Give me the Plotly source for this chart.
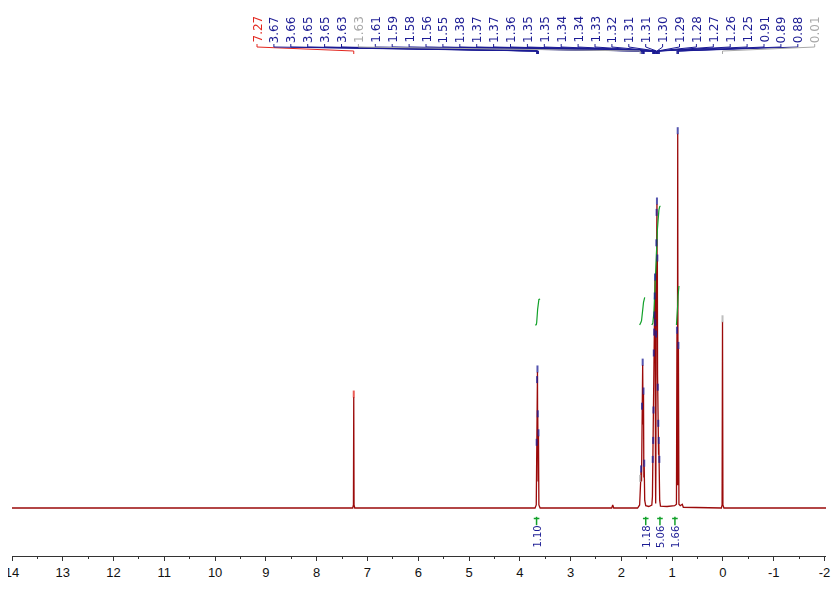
import numpy as np
import plotly.graph_objects as go

# ---------------- data ----------------
spec_ppm = [14.2, 7.29, 7.276, 7.270, 7.264, 7.25,
            3.70, 3.676, 3.668, 3.664, 3.660, 3.656, 3.652, 3.649, 3.646, 3.639, 3.632, 3.624, 3.60,
            2.19, 2.17, 2.15,
            1.68, 1.64, 1.630, 1.621, 1.612, 1.603, 1.594, 1.587, 1.580, 1.572, 1.564, 1.557, 1.550,
            1.540, 1.52, 1.46,
            1.40, 1.388, 1.382, 1.378, 1.374, 1.371, 1.368, 1.364, 1.361, 1.357, 1.354, 1.351, 1.348,
            1.345, 1.343, 1.340, 1.338, 1.335, 1.333, 1.328, 1.324, 1.320, 1.316, 1.313, 1.311, 1.308,
            1.306, 1.302, 1.299, 1.295, 1.291, 1.287, 1.283, 1.278, 1.273, 1.267, 1.262, 1.257, 1.252,
            1.245, 1.23,
            1.10, 0.95, 0.915, 0.905, 0.897, 0.890, 0.883, 0.876, 0.866, 0.84, 0.80, 0.78,
            0.03, 0.016, 0.008, 0.000, -0.02, -2.1]
spec_int = [0.0, 0.0, 0.008, 0.292, 0.008, 0.0,
            0.0, 0.008, 0.165, 0.10, 0.33, 0.27, 0.358, 0.22, 0.24, 0.07, 0.19, 0.008, 0.0,
            0.0, 0.008, 0.0,
            0.0, 0.008, 0.07, 0.04, 0.095, 0.07, 0.26, 0.20, 0.376, 0.22, 0.30, 0.08, 0.11,
            0.02, 0.006, 0.004,
            0.008, 0.03, 0.12, 0.09, 0.17, 0.13, 0.25, 0.20, 0.40, 0.33, 0.455, 0.40, 0.50,
            0.45, 0.55, 0.50, 0.60, 0.45, 0.48, 0.10, 0.012, 0.10, 0.45, 0.52, 0.69, 0.62,
            0.77, 0.70, 0.80, 0.60, 0.65, 0.35, 0.31, 0.18, 0.215, 0.14, 0.17, 0.09, 0.12,
            0.02, 0.005,
            0.004, 0.006, 0.01, 0.46, 0.06, 0.985, 0.06, 0.42, 0.01, 0.006, 0.01, 0.002,
            0.0, 0.008, 0.49, 0.008, 0.0, 0.0]

pick_ppm = [7.270, 3.668, 3.660, 3.652, 3.646, 3.632, 1.630, 1.612, 1.594, 1.580, 1.564, 1.550,
            1.382, 1.374, 1.368, 1.361, 1.354, 1.348, 1.343, 1.338, 1.333, 1.316, 1.311, 1.306,
            1.299, 1.291, 1.283, 1.273, 1.262, 1.252, 0.905, 0.890, 0.876, 0.008]
pick_int = [0.292, 0.165, 0.33, 0.358, 0.24, 0.19, 0.07, 0.095, 0.26, 0.376, 0.30, 0.11,
            0.12, 0.17, 0.25, 0.40, 0.455, 0.50, 0.55, 0.60, 0.48, 0.45, 0.69, 0.77,
            0.80, 0.65, 0.31, 0.215, 0.17, 0.12, 0.46, 0.985, 0.42, 0.49]
pick_label = ["7.27", "3.67", "3.66", "3.65", "3.65", "3.63", "1.63", "1.61", "1.59", "1.58",
              "1.56", "1.55", "1.38", "1.37", "1.37", "1.36", "1.35", "1.35", "1.34", "1.34",
              "1.33", "1.32", "1.31", "1.31", "1.30", "1.29", "1.28", "1.27", "1.26", "1.25",
              "0.91", "0.89", "0.88", "0.01"]
pick_kind = ["red"] + ["navy"] * 5 + ["gray"] + ["navy"] * 26 + ["gray"]

integ_from = [3.70, 1.65, 1.40, 0.93]
integ_to = [3.60, 1.53, 1.23, 0.85]
integ_value = [1.10, 1.18, 5.06, 1.66]
integ_label_ppm = [3.67, 1.52, 1.24, 0.945]

tick_vals = list(range(-2, 15))
tick_text = [str(v) for v in tick_vals]

# ---------------- layout geometry / styles ----------------
# page coordinates (the HTML body adds an 8 px margin around the figure div)
OFF = 8
W, H = 840 - OFF, 592 - OFF
L_PX, R_PX = 12, 826
PPM_LEFT, PPM_RIGHT = 14.0, -2.03
BASE_PY, TOP_PY = 508, 128          # page rows of intensity 0 and 1
AXIS_PY = 556
SCALE_X = (R_PX - L_PX) / (PPM_LEFT - PPM_RIGHT)
SCALE_Y = BASE_PY - TOP_PY

def px_to_ppm(px):
    return PPM_LEFT - (px - L_PX) / SCALE_X

def py_to_int(py):
    return (BASE_PY - py) / SCALE_Y

COL = {"red": "#E3261E", "navy": "#1C1C94", "gray": "#A8A8A8"}
SPEC_COL = "#9B0A0A"
INT_COL = "#12A12A"

fig = go.Figure()

# leader lines from labels to peaks
LABEL_PX0, LABEL_STEP = 257, 16.9
groups = {}
for i, (p, k) in enumerate(zip(pick_ppm, pick_kind)):
    lx = px_to_ppm(LABEL_PX0 + i * LABEL_STEP)
    xs, ys = groups.setdefault(k, ([], []))
    xs += [lx, lx, p, p, None]
    ys += [py_to_int(44), py_to_int(47), py_to_int(51), py_to_int(54), None]
for k, (xs, ys) in groups.items():
    fig.add_trace(go.Scatter(x=xs, y=ys, mode="lines",
                             line=dict(color=COL[k], width=1), hoverinfo="skip"))

# spectrum
fig.add_trace(go.Scatter(x=spec_ppm, y=spec_int, mode="lines",
                         line=dict(color=SPEC_COL, width=1.3), hoverinfo="skip"))

# integral curves
sp = np.array(spec_ppm)
si = np.array(spec_int)
int_base = py_to_int(325)
int_k = 23.5 / SCALE_Y
for a, b, v in zip(integ_from, integ_to, integ_value):
    m = (sp <= a) & (sp >= b)
    x = sp[m]
    y = si[m]
    cum = np.concatenate([[0.0], np.cumsum(0.5 * (y[1:] + y[:-1]) * np.abs(np.diff(x)))])
    cum = int_base + cum / cum[-1] * v * int_k
    fig.add_trace(go.Scatter(x=x, y=cum, mode="lines",
                             line=dict(color=INT_COL, width=1.2), hoverinfo="skip"))

# peak-pick markers
fig.add_trace(go.Scatter(
    x=pick_ppm, y=[h + 3 / SCALE_Y for h in pick_int], mode="markers",
    marker=dict(symbol="line-ns", size=5,
                line=dict(width=2, color=[COL[k] for k in pick_kind])),
    opacity=0.75, hoverinfo="skip"))

# integral brackets
fig.add_trace(go.Scatter(
    x=integ_label_ppm, y=[py_to_int(521)] * len(integ_label_ppm), mode="markers",
    marker=dict(symbol="line-ns", size=6, line=dict(width=1.5, color=INT_COL)),
    hoverinfo="skip"))
fig.add_trace(go.Scatter(
    x=integ_label_ppm, y=[py_to_int(518.5)] * len(integ_label_ppm), mode="markers",
    marker=dict(symbol="line-ew", size=4, line=dict(width=1.5, color=INT_COL)),
    hoverinfo="skip"))

annotations = []
for i, (lab, k) in enumerate(zip(pick_label, pick_kind)):
    annotations.append(dict(
        x=px_to_ppm(LABEL_PX0 + i * LABEL_STEP), y=py_to_int(44), xref="x", yref="y",
        text=lab, textangle=-90, showarrow=False, xanchor="center", yanchor="bottom",
        font=dict(family="DejaVu Sans", size=12, color=COL[k]), borderpad=0))
for xv, v in zip(integ_label_ppm, integ_value):
    annotations.append(dict(
        x=xv, y=py_to_int(525), xref="x", yref="y", text=f"{v:.2f}", textangle=-90,
        showarrow=False, xanchor="center", yanchor="top",
        font=dict(family="DejaVu Sans", size=10, color=COL["navy"]), borderpad=0))

fig.update_layout(
    width=W, height=H,
    margin=dict(l=L_PX - OFF, r=W - (R_PX - OFF), t=0, b=H - (AXIS_PY - OFF), pad=0,
                autoexpand=False),
    paper_bgcolor="white", plot_bgcolor="white",
    showlegend=False, hovermode=False,
    annotations=annotations,
    xaxis=dict(range=[PPM_LEFT, PPM_RIGHT], showgrid=False, zeroline=False,
               automargin=False, ticklabeloverflow="allow",
               showline=True, linecolor="#333333", linewidth=1,
               ticks="outside", ticklen=4, tickcolor="#333333",
               tickvals=tick_vals, ticktext=tick_text,
               tickfont=dict(family="Liberation Sans, Arial", size=13, color="#111111"),
               minor=dict(dtick=0.5, tick0=0, ticks="outside", ticklen=2,
                          tickcolor="#333333", showgrid=False)),
    yaxis=dict(range=[py_to_int(AXIS_PY), py_to_int(OFF)], visible=False, fixedrange=True,
               automargin=False),
)

fig.write_html("out.html")
